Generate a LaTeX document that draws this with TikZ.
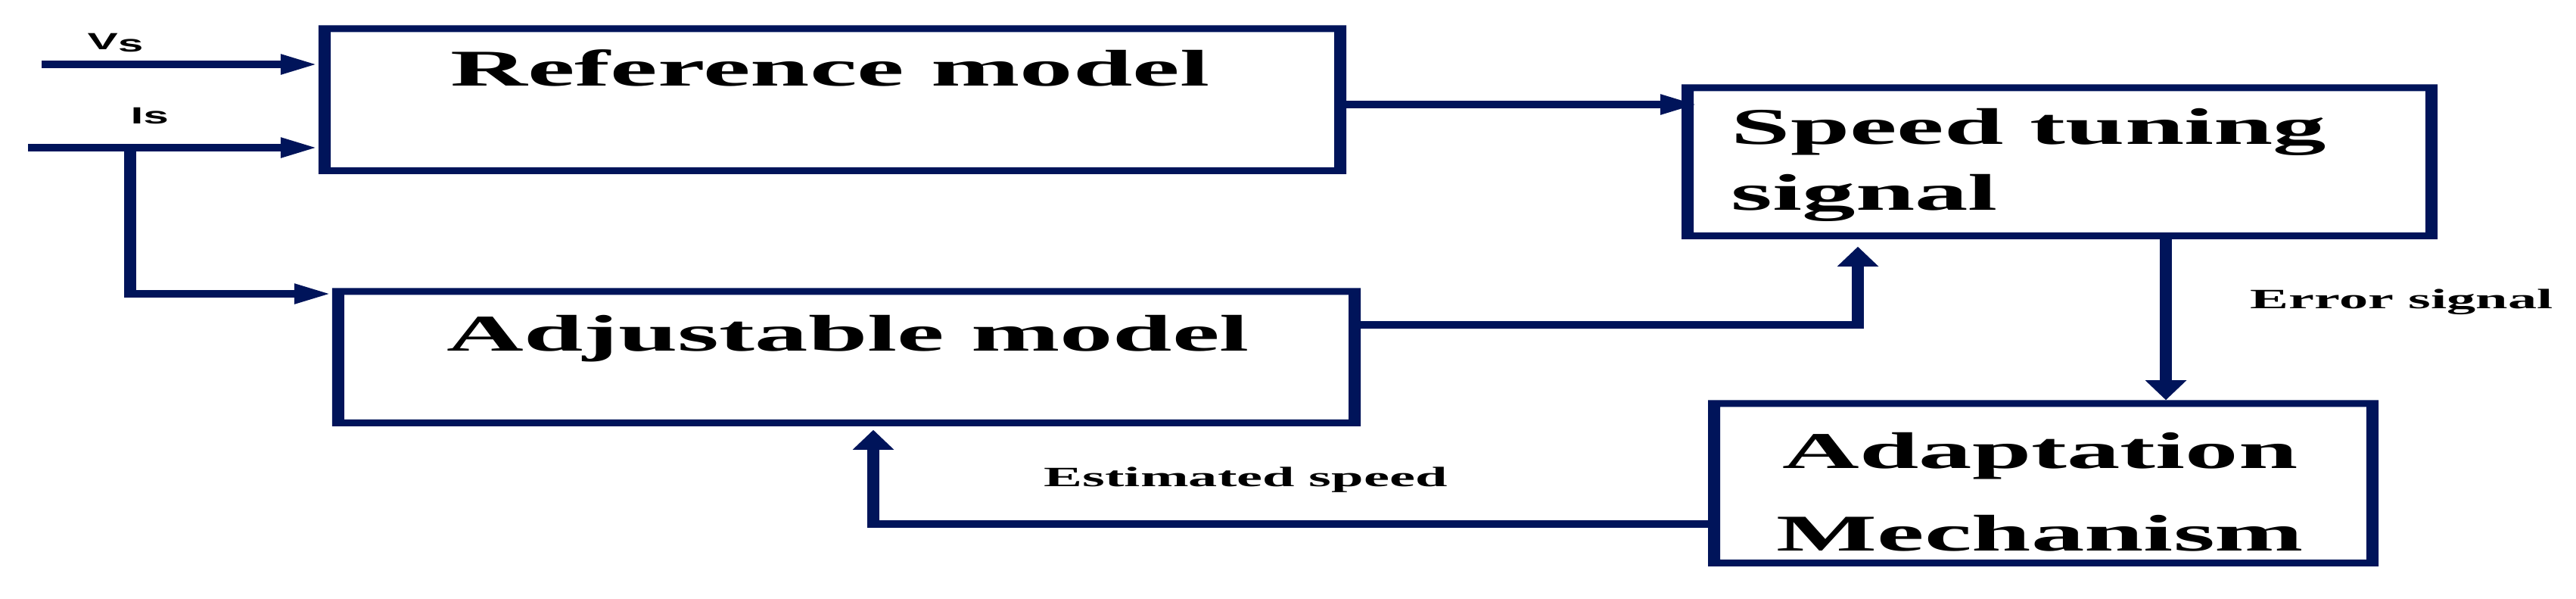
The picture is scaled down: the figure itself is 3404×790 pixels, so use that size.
\documentclass[tikz,border=0pt]{standalone}
\usepackage{fontspec}
\setmainfont{Liberation Serif}[FakeStretch=2.07]
\newfontfamily\lblfont{Liberation Sans}[FakeStretch=1.95]
\usetikzlibrary{arrows.meta}
\definecolor{navy}{RGB}{0,20,90}
\newcommand\boxborder[1]{\fill[navy,even odd rule] (#1.south west) rectangle (#1.north east) ([xshift=0.16cm,yshift=0.09cm]#1.south west) rectangle ([xshift=-0.16cm,yshift=-0.09cm]#1.north east);}
\begin{document}
\begin{tikzpicture}[x=0.01cm,y=-0.01cm,
  blk/.style={draw=none,inner sep=0pt,rectangle},
  bigtxt/.style={inner sep=0pt,font=\bfseries\fontsize{19.35pt}{23pt}\selectfont},
  smalltxt/.style={inner sep=0pt,font=\bfseries\fontsize{10.5pt}{12pt}\selectfont},
  sigtxt/.style={inner sep=0pt,font=\lblfont\bfseries\fontsize{8.8pt}{10pt}\selectfont},
  hline/.style={navy,line width=0.105cm},
  vline/.style={navy,line width=0.16cm},
  harrow/.style={-{Triangle[length=0.5cm,width=0.24cm]}},
  varrow/.style={-{Triangle[length=0.26cm,width=0.53cm]}}]
\useasboundingbox (0,0) rectangle (3404,790);
% boxes
\node[blk,minimum width=13.56cm,minimum height=1.95cm] (ref) at (1100,131.5) {};
\node[blk,minimum width=13.57cm,minimum height=1.81cm] (adj) at (1118.5,471.5) {};
\node[blk,minimum width=9.97cm,minimum height=2.03cm] (speed) at (2721.5,213.5) {};
\node[blk,minimum width=8.84cm,minimum height=2.18cm] (adapt) at (2700,638) {};
\boxborder{ref}
\boxborder{adj}
\boxborder{speed}
\boxborder{adapt}
% texts
\node[bigtxt,anchor=base west] (reft) at (595,113) {Reference model};
\node[bigtxt,anchor=base west] (adjt) at (590,463) {Adjustable model};
\node[bigtxt,anchor=base west] (spt1) at (2287,190) {Speed tuning};
\node[bigtxt,anchor=base west] (spt2) at (2287,277) {signal};
\node[bigtxt,anchor=base] (adt1) at (2696,618) {Adaptation};
\node[bigtxt,anchor=base] (adt2) at (2696,727) {Mechanism};
\node[smalltxt,anchor=base west] (errl) at (2973,407) {Error signal};
\node[smalltxt,anchor=base west] (estl) at (1379,642) {Estimated speed};
\node[sigtxt,anchor=base west] (vsl) at (115,65) {V\raisebox{-1.1pt}{s}};
\node[sigtxt,anchor=base west] (isl) at (172,163) {Is};
% connector points
\coordinate (vsin) at (55,85);
\coordinate (isin) at (37,195);
\coordinate (br) at (172,195);
\coordinate (brd) at (172,388);
\coordinate (r2s) at (1778,138);
\coordinate (a2s) at (2455,429);
\coordinate (s2a) at (2862,315);
\coordinate (a2a) at (1154,692);
% connectors
\draw[hline,harrow] (vsin) -- (vsin -| ref.west);
\draw[hline,harrow] (isin) -- (isin -| ref.west);
\draw[vline] (br) -- ([yshift=-0.05cm]brd);
\draw[hline,harrow] ([xshift=-0.08cm]brd) -- (brd -| adj.west);
\draw[hline,harrow,shorten >=-0.22cm] (r2s -| ref.east) -- (r2s -| speed.west);
\draw[hline] (a2s -| adj.east) -- ([xshift=0.08cm]a2s);
\draw[vline,varrow,shorten >=0.1cm] ([yshift=-0.05cm]a2s) -- (a2s |- speed.south);
\draw[vline,varrow] (s2a |- speed.south) -- (s2a |- adapt.north);
\draw[hline] (a2a -| adapt.west) -- ([xshift=-0.08cm]a2a);
\draw[vline,varrow,shorten >=0.05cm] ([yshift=-0.05cm]a2a) -- (a2a |- adj.south);
\end{tikzpicture}
\end{document}
